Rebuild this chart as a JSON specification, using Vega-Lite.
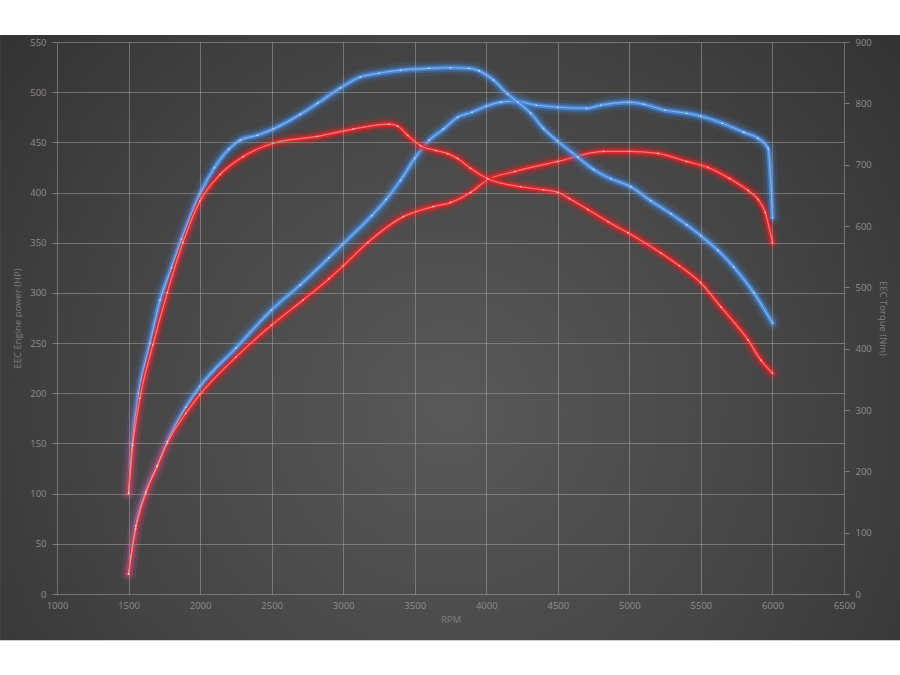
{
  "$schema": "https://vega.github.io/schema/vega-lite/v6.json",
  "width": 787,
  "height": 552,
  "autosize": {"type": "none"},
  "padding": {"left": 57, "top": 42, "right": 56, "bottom": 81},
  "background": "white",
  "config": {
    "view": {"stroke": null},
    "axis": {
      "labelFont": "Open Sans",
      "titleFont": "Open Sans",
      "labelColor": "#8e8e8e",
      "titleColor": "#7e7e7e",
      "labelFontSize": 9.5,
      "titleFontSize": 9.5,
      "titleFontWeight": "normal",
      "gridColor": "#a0a0a0",
      "gridOpacity": 0.55,
      "tickColor": "#a0a0a0",
      "tickOpacity": 0.65,
      "domain": false
    }
  },
  "datasets": {
    "power": [
      {"rpm": 1500, "hp": 20, "curve": "Stage 1"},
      {"rpm": 1550, "hp": 68, "curve": "Stage 1"},
      {"rpm": 1620, "hp": 102, "curve": "Stage 1"},
      {"rpm": 1700, "hp": 128, "curve": "Stage 1"},
      {"rpm": 1770, "hp": 152, "curve": "Stage 1"},
      {"rpm": 1900, "hp": 186, "curve": "Stage 1"},
      {"rpm": 2000, "hp": 207, "curve": "Stage 1"},
      {"rpm": 2250, "hp": 245, "curve": "Stage 1"},
      {"rpm": 2500, "hp": 283, "curve": "Stage 1"},
      {"rpm": 2700, "hp": 308, "curve": "Stage 1"},
      {"rpm": 2900, "hp": 335, "curve": "Stage 1"},
      {"rpm": 3000, "hp": 349, "curve": "Stage 1"},
      {"rpm": 3200, "hp": 377, "curve": "Stage 1"},
      {"rpm": 3300, "hp": 393, "curve": "Stage 1"},
      {"rpm": 3400, "hp": 412, "curve": "Stage 1"},
      {"rpm": 3500, "hp": 434, "curve": "Stage 1"},
      {"rpm": 3600, "hp": 452, "curve": "Stage 1"},
      {"rpm": 3700, "hp": 463, "curve": "Stage 1"},
      {"rpm": 3800, "hp": 475, "curve": "Stage 1"},
      {"rpm": 3900, "hp": 480, "curve": "Stage 1"},
      {"rpm": 4000, "hp": 486, "curve": "Stage 1"},
      {"rpm": 4100, "hp": 490, "curve": "Stage 1"},
      {"rpm": 4200, "hp": 491, "curve": "Stage 1"},
      {"rpm": 4350, "hp": 487, "curve": "Stage 1"},
      {"rpm": 4500, "hp": 485, "curve": "Stage 1"},
      {"rpm": 4700, "hp": 484, "curve": "Stage 1"},
      {"rpm": 4800, "hp": 487, "curve": "Stage 1"},
      {"rpm": 5000, "hp": 490, "curve": "Stage 1"},
      {"rpm": 5100, "hp": 488, "curve": "Stage 1"},
      {"rpm": 5250, "hp": 482, "curve": "Stage 1"},
      {"rpm": 5400, "hp": 479, "curve": "Stage 1"},
      {"rpm": 5500, "hp": 476, "curve": "Stage 1"},
      {"rpm": 5650, "hp": 469, "curve": "Stage 1"},
      {"rpm": 5800, "hp": 460, "curve": "Stage 1"},
      {"rpm": 5900, "hp": 454, "curve": "Stage 1"},
      {"rpm": 5970, "hp": 444, "curve": "Stage 1"},
      {"rpm": 6000, "hp": 375, "curve": "Stage 1"},
      {"rpm": 1500, "hp": 20, "curve": "Stock"},
      {"rpm": 1550, "hp": 65, "curve": "Stock"},
      {"rpm": 1620, "hp": 100, "curve": "Stock"},
      {"rpm": 1700, "hp": 127, "curve": "Stock"},
      {"rpm": 1770, "hp": 150, "curve": "Stock"},
      {"rpm": 1900, "hp": 180, "curve": "Stock"},
      {"rpm": 2000, "hp": 199, "curve": "Stock"},
      {"rpm": 2250, "hp": 236, "curve": "Stock"},
      {"rpm": 2500, "hp": 268, "curve": "Stock"},
      {"rpm": 2720, "hp": 293, "curve": "Stock"},
      {"rpm": 2900, "hp": 314, "curve": "Stock"},
      {"rpm": 3000, "hp": 327, "curve": "Stock"},
      {"rpm": 3170, "hp": 350, "curve": "Stock"},
      {"rpm": 3420, "hp": 376, "curve": "Stock"},
      {"rpm": 3630, "hp": 386, "curve": "Stock"},
      {"rpm": 3750, "hp": 390, "curve": "Stock"},
      {"rpm": 3890, "hp": 400, "curve": "Stock"},
      {"rpm": 4000, "hp": 412, "curve": "Stock"},
      {"rpm": 4200, "hp": 421, "curve": "Stock"},
      {"rpm": 4500, "hp": 431, "curve": "Stock"},
      {"rpm": 4820, "hp": 441, "curve": "Stock"},
      {"rpm": 5000, "hp": 441, "curve": "Stock"},
      {"rpm": 5200, "hp": 439, "curve": "Stock"},
      {"rpm": 5400, "hp": 431, "curve": "Stock"},
      {"rpm": 5550, "hp": 425, "curve": "Stock"},
      {"rpm": 5700, "hp": 414, "curve": "Stock"},
      {"rpm": 5830, "hp": 402, "curve": "Stock"},
      {"rpm": 5900, "hp": 393, "curve": "Stock"},
      {"rpm": 5950, "hp": 380, "curve": "Stock"},
      {"rpm": 6000, "hp": 350, "curve": "Stock"}
    ],
    "torque": [
      {"rpm": 1500, "nm": 164, "curve": "Stage 1"},
      {"rpm": 1525, "nm": 245, "curve": "Stage 1"},
      {"rpm": 1570, "nm": 327, "curve": "Stage 1"},
      {"rpm": 1650, "nm": 409, "curve": "Stage 1"},
      {"rpm": 1720, "nm": 479, "curve": "Stage 1"},
      {"rpm": 1800, "nm": 532, "curve": "Stage 1"},
      {"rpm": 1870, "nm": 578, "curve": "Stage 1"},
      {"rpm": 2000, "nm": 653, "curve": "Stage 1"},
      {"rpm": 2100, "nm": 695, "curve": "Stage 1"},
      {"rpm": 2200, "nm": 725, "curve": "Stage 1"},
      {"rpm": 2280, "nm": 740, "curve": "Stage 1"},
      {"rpm": 2400, "nm": 748, "curve": "Stage 1"},
      {"rpm": 2510, "nm": 758, "curve": "Stage 1"},
      {"rpm": 2700, "nm": 782, "curve": "Stage 1"},
      {"rpm": 2820, "nm": 800, "curve": "Stage 1"},
      {"rpm": 2980, "nm": 825, "curve": "Stage 1"},
      {"rpm": 3120, "nm": 843, "curve": "Stage 1"},
      {"rpm": 3250, "nm": 849, "curve": "Stage 1"},
      {"rpm": 3400, "nm": 854, "curve": "Stage 1"},
      {"rpm": 3600, "nm": 857, "curve": "Stage 1"},
      {"rpm": 3750, "nm": 858, "curve": "Stage 1"},
      {"rpm": 3880, "nm": 857, "curve": "Stage 1"},
      {"rpm": 3950, "nm": 853, "curve": "Stage 1"},
      {"rpm": 4050, "nm": 838, "curve": "Stage 1"},
      {"rpm": 4150, "nm": 815, "curve": "Stage 1"},
      {"rpm": 4220, "nm": 802, "curve": "Stage 1"},
      {"rpm": 4310, "nm": 784, "curve": "Stage 1"},
      {"rpm": 4400, "nm": 759, "curve": "Stage 1"},
      {"rpm": 4500, "nm": 738, "curve": "Stage 1"},
      {"rpm": 4640, "nm": 712, "curve": "Stage 1"},
      {"rpm": 4750, "nm": 692, "curve": "Stage 1"},
      {"rpm": 4870, "nm": 677, "curve": "Stage 1"},
      {"rpm": 5010, "nm": 664, "curve": "Stage 1"},
      {"rpm": 5150, "nm": 641, "curve": "Stage 1"},
      {"rpm": 5290, "nm": 620, "curve": "Stage 1"},
      {"rpm": 5400, "nm": 602, "curve": "Stage 1"},
      {"rpm": 5500, "nm": 584, "curve": "Stage 1"},
      {"rpm": 5620, "nm": 560, "curve": "Stage 1"},
      {"rpm": 5730, "nm": 533, "curve": "Stage 1"},
      {"rpm": 5870, "nm": 491, "curve": "Stage 1"},
      {"rpm": 6000, "nm": 442, "curve": "Stage 1"},
      {"rpm": 1500, "nm": 164, "curve": "Stock"},
      {"rpm": 1530, "nm": 242, "curve": "Stock"},
      {"rpm": 1580, "nm": 319, "curve": "Stock"},
      {"rpm": 1670, "nm": 406, "curve": "Stock"},
      {"rpm": 1770, "nm": 491, "curve": "Stock"},
      {"rpm": 1880, "nm": 573, "curve": "Stock"},
      {"rpm": 2000, "nm": 641, "curve": "Stock"},
      {"rpm": 2140, "nm": 684, "curve": "Stock"},
      {"rpm": 2300, "nm": 713, "curve": "Stock"},
      {"rpm": 2510, "nm": 735, "curve": "Stock"},
      {"rpm": 2820, "nm": 746, "curve": "Stock"},
      {"rpm": 3070, "nm": 758, "curve": "Stock"},
      {"rpm": 3320, "nm": 766, "curve": "Stock"},
      {"rpm": 3380, "nm": 763, "curve": "Stock"},
      {"rpm": 3450, "nm": 748, "curve": "Stock"},
      {"rpm": 3540, "nm": 731, "curve": "Stock"},
      {"rpm": 3650, "nm": 723, "curve": "Stock"},
      {"rpm": 3730, "nm": 718, "curve": "Stock"},
      {"rpm": 3800, "nm": 710, "curve": "Stock"},
      {"rpm": 3890, "nm": 694, "curve": "Stock"},
      {"rpm": 4010, "nm": 677, "curve": "Stock"},
      {"rpm": 4240, "nm": 664, "curve": "Stock"},
      {"rpm": 4400, "nm": 659, "curve": "Stock"},
      {"rpm": 4500, "nm": 655, "curve": "Stock"},
      {"rpm": 4580, "nm": 645, "curve": "Stock"},
      {"rpm": 4710, "nm": 627, "curve": "Stock"},
      {"rpm": 4850, "nm": 607, "curve": "Stock"},
      {"rpm": 4990, "nm": 589, "curve": "Stock"},
      {"rpm": 5220, "nm": 556, "curve": "Stock"},
      {"rpm": 5350, "nm": 535, "curve": "Stock"},
      {"rpm": 5500, "nm": 507, "curve": "Stock"},
      {"rpm": 5640, "nm": 468, "curve": "Stock"},
      {"rpm": 5830, "nm": 414, "curve": "Stock"},
      {"rpm": 5920, "nm": 381, "curve": "Stock"},
      {"rpm": 6000, "nm": 360, "curve": "Stock"}
    ]
  },
  "layer": [
    {
      "data": {"name": "power"},
      "layer": [
        {
          "data": {"values": [{"bg": 1}]},
          "mark": {
            "type": "rect",
            "clip": false,
            "color": {
              "gradient": "radial",
              "x1": 0.5, "y1": 0.58, "r1": 0,
              "x2": 0.5, "y2": 0.58, "r2": 0.78,
              "stops": [
                {"offset": 0, "color": "#595959"},
                {"offset": 0.5, "color": "#444444"},
                {"offset": 1, "color": "#2a2a2a"}
              ]
            }
          },
          "encoding": {
            "x": {"datum": 602, "type": "quantitative", "scale": {"domain": [1000, 6500], "nice": false, "zero": false},
                  "axis": {"zindex": 1, "grid": true, "format": "d", "values": [1000, 1500, 2000, 2500, 3000, 3500, 4000, 4500, 5000, 5500, 6000, 6500], "title": "RPM", "ticks": false, "labelPadding": 6, "titlePadding": 5, "labelFlush": false}},
            "x2": {"datum": 6893},
            "y": {"datum": 557, "type": "quantitative", "scale": {"domain": [0, 550], "nice": false},
                  "axis": {"zindex": 1, "grid": true, "values": [0, 50, 100, 150, 200, 250, 300, 350, 400, 450, 500, 550], "title": "EEC Engine power (HP)", "tickSize": 5, "labelPadding": 6, "titlePadding": 7}},
            "y2": {"datum": -46}
          }
        },
        {
          "layer": [
            {"mark": {"type": "line", "interpolate": "monotone", "strokeWidth": 15, "opacity": 0.14, "strokeCap": "round", "strokeJoin": "round"},
             "encoding": {"color": {"condition": {"test": "datum.curve === 'Stock'", "value": "#e41e1e"}, "value": "#3f86d9"}}},
            {"mark": {"type": "line", "interpolate": "monotone", "strokeWidth": 8.5, "opacity": 0.32, "strokeCap": "round", "strokeJoin": "round"},
             "encoding": {"color": {"condition": {"test": "datum.curve === 'Stock'", "value": "#e41e1e"}, "value": "#3f86d9"}}},
            {"mark": {"type": "line", "interpolate": "monotone", "strokeWidth": 4.5, "opacity": 0.9, "strokeCap": "round", "strokeJoin": "round"},
             "encoding": {"color": {"condition": {"test": "datum.curve === 'Stock'", "value": "#e2262a"}, "value": "#4a8ad8"}}},
            {"mark": {"type": "line", "interpolate": "monotone", "strokeWidth": 1.2, "opacity": 0.8, "strokeCap": "round", "strokeJoin": "round"},
             "encoding": {"color": {"condition": {"test": "datum.curve === 'Stock'", "value": "#ff8f8f"}, "value": "#8fbdf2"}}},
            {"mark": {"type": "point", "filled": true, "size": 4, "opacity": 0.5, "color": "#ffffff"}, "encoding": {}}
          ],
          "encoding": {
            "x": {"field": "rpm", "type": "quantitative", "scale": {"domain": [1000, 6500], "nice": false, "zero": false},
                  "axis": {"zindex": 1, "grid": true, "format": "d", "values": [1000, 1500, 2000, 2500, 3000, 3500, 4000, 4500, 5000, 5500, 6000, 6500], "title": "RPM", "ticks": false, "labelPadding": 6, "titlePadding": 5, "labelFlush": false}},
            "y": {"field": "hp", "type": "quantitative", "scale": {"domain": [0, 550], "nice": false},
                  "axis": {"zindex": 1, "grid": true, "values": [0, 50, 100, 150, 200, 250, 300, 350, 400, 450, 500, 550], "title": "EEC Engine power (HP)", "tickSize": 5, "labelPadding": 6, "titlePadding": 7}},
            "detail": {"field": "curve", "type": "nominal"}
          }
        }
      ]
    },
    {
      "data": {"name": "torque"},
      "layer": [
        {"mark": {"type": "line", "interpolate": "monotone", "strokeWidth": 15, "opacity": 0.14, "strokeCap": "round", "strokeJoin": "round"},
         "encoding": {"color": {"condition": {"test": "datum.curve === 'Stock'", "value": "#e41e1e"}, "value": "#3f86d9"}}},
        {"mark": {"type": "line", "interpolate": "monotone", "strokeWidth": 8.5, "opacity": 0.32, "strokeCap": "round", "strokeJoin": "round"},
         "encoding": {"color": {"condition": {"test": "datum.curve === 'Stock'", "value": "#e41e1e"}, "value": "#3f86d9"}}},
        {"mark": {"type": "line", "interpolate": "monotone", "strokeWidth": 4.5, "opacity": 0.9, "strokeCap": "round", "strokeJoin": "round"},
         "encoding": {"color": {"condition": {"test": "datum.curve === 'Stock'", "value": "#e2262a"}, "value": "#4a8ad8"}}},
        {"mark": {"type": "line", "interpolate": "monotone", "strokeWidth": 1.2, "opacity": 0.8, "strokeCap": "round", "strokeJoin": "round"},
         "encoding": {"color": {"condition": {"test": "datum.curve === 'Stock'", "value": "#ff8f8f"}, "value": "#8fbdf2"}}},
        {"mark": {"type": "point", "filled": true, "size": 4, "opacity": 0.5, "color": "#ffffff"}, "encoding": {}}
      ],
      "encoding": {
        "x": {"field": "rpm", "type": "quantitative", "scale": {"domain": [1000, 6500], "nice": false, "zero": false},
              "axis": {"zindex": 1, "grid": true, "format": "d", "values": [1000, 1500, 2000, 2500, 3000, 3500, 4000, 4500, 5000, 5500, 6000, 6500], "title": "RPM", "ticks": false, "labelPadding": 6, "titlePadding": 5, "labelFlush": false}},
        "y": {"field": "nm", "type": "quantitative", "scale": {"domain": [0, 900], "nice": false},
              "axis": {"zindex": 1, "orient": "right", "values": [0, 100, 200, 300, 400, 500, 600, 700, 800, 900], "title": "EEC Torque (Nm)", "grid": false, "tickSize": 5, "labelPadding": 6, "titlePadding": 6}},
        "detail": {"field": "curve", "type": "nominal"}
      }
    }
  ],
  "resolve": {"scale": {"y": "independent"}}
}
